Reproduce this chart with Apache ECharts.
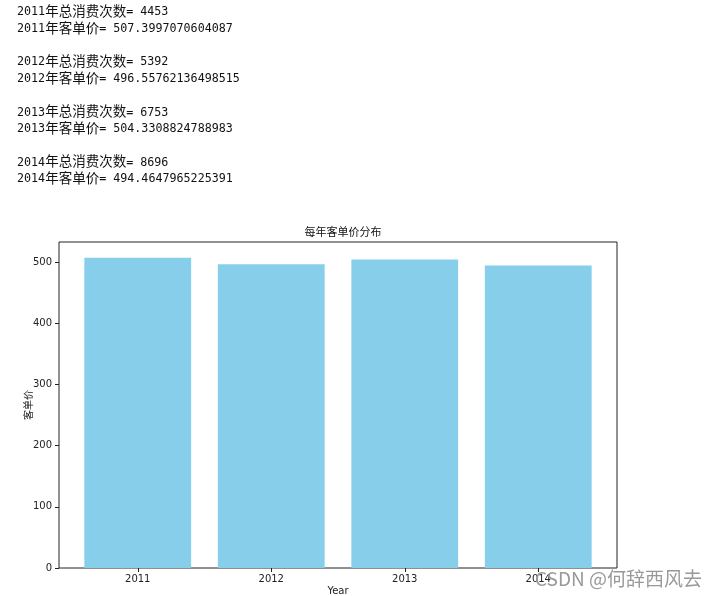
<!DOCTYPE html>
<html>
<head>
<meta charset="utf-8">
<script src="https://cdn.jsdelivr.net/npm/echarts@6/dist/echarts.min.js"></script>
<style>
  html, body { margin: 0; padding: 0; background: #fff; }
  #main { width: 720px; height: 596px; }
</style>
</head>
<body>
<div id="main"></div>
<script>
var myChart = echarts.init(document.getElementById('main'));

var years = ['2011', '2012', '2013', '2014'];
var counts = [4453, 5392, 6753, 8696];
var prices = [507.3997070604087, 496.55762136498515, 504.3308824788983, 494.4647965225391];
var yTicks = [0, 100, 200, 300, 400, 500];
var yMax = 533;

// console output printed above the figure (half-width mono + CJK parts)
var lines = [];
for (var i = 0; i < years.length; i++) {
    if (i > 0) lines.push('{m| }');
    lines.push('{m|' + years[i] + '}{c|年总消费次数}{m|= ' + counts[i] + '}');
    lines.push('{m|' + years[i] + '}{c|年客单价}{m|= ' + prices[i] + '}');
}

var tickFont = { fontSize: 10, color: '#222', fontFamily: 'DejaVu Sans' };

option = {
    backgroundColor: '#fff',
    animation: false,
    title: [
        {
            text: lines.join('\n'),
            left: 17,
            top: 4,
            padding: 0,
            textStyle: {
                fontSize: 14,
                fontWeight: 'normal',
                color: '#111',
                lineHeight: 16.7,
                rich: {
                    m: { fontSize: 11.7, lineHeight: 16.7, verticalAlign: 'middle', color: '#111', fontFamily: '"DejaVu Sans Mono", monospace' },
                    c: { fontSize: 13.5, lineHeight: 16.7, verticalAlign: 'middle', padding: [0, 0, 3, 0], color: '#111', fontFamily: '"Noto Sans CJK SC"' }
                }
            }
        },
        {
            text: '每年客单价分布',
            left: 338,
            top: 221,
            textAlign: 'center',
            textStyle: { fontSize: 11, fontWeight: 'normal', color: '#111', fontFamily: '"Noto Sans CJK SC"' }
        },
        {
            text: 'CSDN @何辞西风去',
            left: 530,
            top: 564,
            textStyle: { fontSize: 19, fontWeight: 'normal', color: '#999', fontFamily: '"Noto Sans CJK SC"' }
        }
    ],
    grid: [
        // frame of the axes box
        { left: 59, right: 103, top: 242, bottom: 28, outerBoundsMode: 'none', containLabel: false, show: true, borderColor: '#222', borderWidth: 1, backgroundColor: 'transparent' },
        // plotting area aligned to the bar bands
        { left: 71, right: 115, top: 242, bottom: 28, outerBoundsMode: 'none', containLabel: false }
    ],
    xAxis: [
        { gridIndex: 0, type: 'value', show: false },
        {
            gridIndex: 1,
            type: 'category',
            data: years,
            name: 'Year',
            nameLocation: 'middle',
            nameGap: 18,
            nameMoveOverlap: false,
            nameTextStyle: { fontSize: 10, color: '#222', fontFamily: 'DejaVu Sans' },
            axisLine: { show: false },
            axisTick: { show: true, alignWithLabel: true, length: 4, lineStyle: { color: '#222' } },
            axisLabel: Object.assign({ margin: 6 }, tickFont),
            splitLine: { show: false }
        }
    ],
    yAxis: [
        { gridIndex: 0, type: 'value', show: false },
        {
            gridIndex: 1,
            type: 'value',
            min: 0,
            max: yMax,
            offset: 12,
            name: '客单价',
            nameLocation: 'middle',
            nameGap: 26,
            nameMoveOverlap: false,
            nameTextStyle: { fontSize: 10, color: '#222', fontFamily: '"Noto Sans CJK SC"' },
            axisLine: { show: false },
            axisTick: { show: true, length: 4, lineStyle: { color: '#222' }, customValues: yTicks },
            axisLabel: Object.assign({ margin: 7, customValues: yTicks }, tickFont),
            splitLine: { show: false }
        }
    ],
    series: [
        {
            type: 'bar',
            xAxisIndex: 1,
            yAxisIndex: 1,
            data: prices,
            barCategoryGap: '20%',
            itemStyle: { color: '#87CEEB' }
        }
    ]
};

myChart.setOption(option);
</script>
</body>
</html>
